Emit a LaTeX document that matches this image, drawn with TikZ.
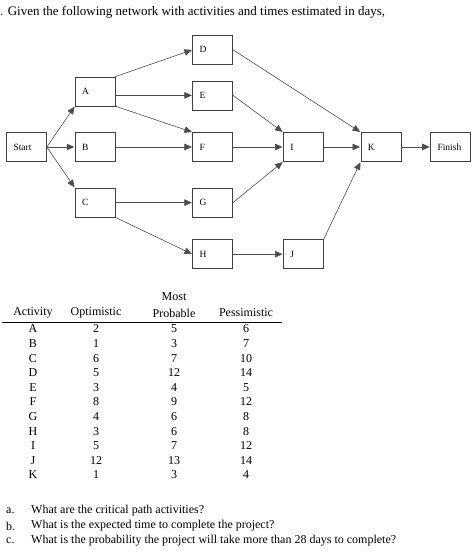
\documentclass[tikz,border=0pt]{standalone}
\usepackage{fontspec}
\setmainfont{Liberation Serif}
\usetikzlibrary{positioning,arrows.meta}

\begin{document}
\begin{tikzpicture}[x=1pt, y=1pt, node distance=26pt, every node/.style={font=\fontsize{12}{14}\selectfont}]
\tikzstyle{act}=[draw=black!75, line width=0.6pt, minimum width=40pt, minimum height=29pt, text width=26pt, inner xsep=7pt, align=left, font=\fontsize{9.5}{11}\selectfont]
\tikzstyle{arr}=[-{Triangle[length=7.5pt,width=6.5pt]}, draw=black!70, line width=0.6pt, shorten >=0.5pt]
\useasboundingbox (0,0) rectangle (472,554);
% heading
\node[anchor=base west, inner sep=0pt, font=\fontsize{13}{15}\selectfont] (head) at (0,538) {. Given the following network with activities and times estimated in days,};
% network
\node[act] (start) at (26.5,407) {Start};
\node[act, right=28pt of start] (b) {B};
\node[act, above=26pt of b] (a) {A};
\node[act, below=26pt of b] (c) {C};
\node[act, right=77pt of b] (f) {F};
\node[act, above=22pt of f] (e) {E};
\node[act, above=16pt of e] (d) {D};
\node[act, below=26pt of f] (g) {G};
\node[act, below=22pt of g] (h) {H};
\node[act, right=50pt of f] (i) {I};
\node[act, right=50pt of h] (j) {J};
\node[act, right=37pt of i] (k) {K};
\node[act, right=29pt of k] (finish) {Finish};
\draw[arr] (start.east) -- (a.south west);
\draw[arr] (start) -- (b);
\draw[arr] (start.east) -- (c.north west);
\draw[arr] (a.north east) -- (d.west);
\draw[arr] (a.east |- e.west) -- (e.west);
\draw[arr] (a.south east) -- (f.north west);
\draw[arr] (b) -- (f);
\draw[arr] (c) -- (g);
\draw[arr] (c.south east) -- (h.west);
\draw[arr] (d.east) -- (k.north west);
\draw[arr] (e.east) -- (i.north west);
\draw[arr] (f) -- (i);
\draw[arr] (g.east) -- (i.south west);
\draw[arr] (h) -- (j);
\draw[arr] (i) -- (k);
\draw[arr] (j.north east) -- (k.south west);
\draw[arr] (k) -- (finish);
% table
\node (most) at (174,257) {Most};
\node (hact) at (33,241) {Activity};
\node (hopt) at (96,241) {Optimistic};
\node (hmp) at (174,241) {Probable};
\node (hpes) at (246,241) {Pessimistic};
\coordinate (rulel) at (2,232);
\coordinate (ruler) at (282,232);
\draw[line width=0.7pt] (rulel) -- (ruler);
\foreach \va/\vo/\vm/\vp [count=\r] in {A/2/5/6, B/1/3/7, C/6/7/10, D/5/12/14, E/3/4/5, F/8/9/12, G/4/6/8, H/3/6/8, I/5/7/12, J/12/13/14, K/1/3/4}
{
  \pgfmathsetmacro{\ry}{225-14.6*(\r-1)}
  \node (ac\r) at (33,\ry) {\va};
  \node (op\r) at (96,\ry) {\vo};
  \node (mp\r) at (174,\ry) {\vm};
  \node (pe\r) at (246,\ry) {\vp};
}
% questions
\node[anchor=west, inner sep=0pt] (qa) at (6,43) {a.};
\node[anchor=west, inner sep=0pt] (qb) at (6,28) {b.};
\node[anchor=west, inner sep=0pt] (qc) at (6,13) {c.};
\node[anchor=west, inner sep=0pt] (ta) at (31,43) {What are the critical path activities?};
\node[anchor=west, inner sep=0pt] (tb) at (31,28) {What is the expected time to complete the project?};
\node[anchor=west, inner sep=0pt] (tc) at (31,13) {What is the probability the project will take more than 28 days to complete?};
\end{tikzpicture}
\end{document}
